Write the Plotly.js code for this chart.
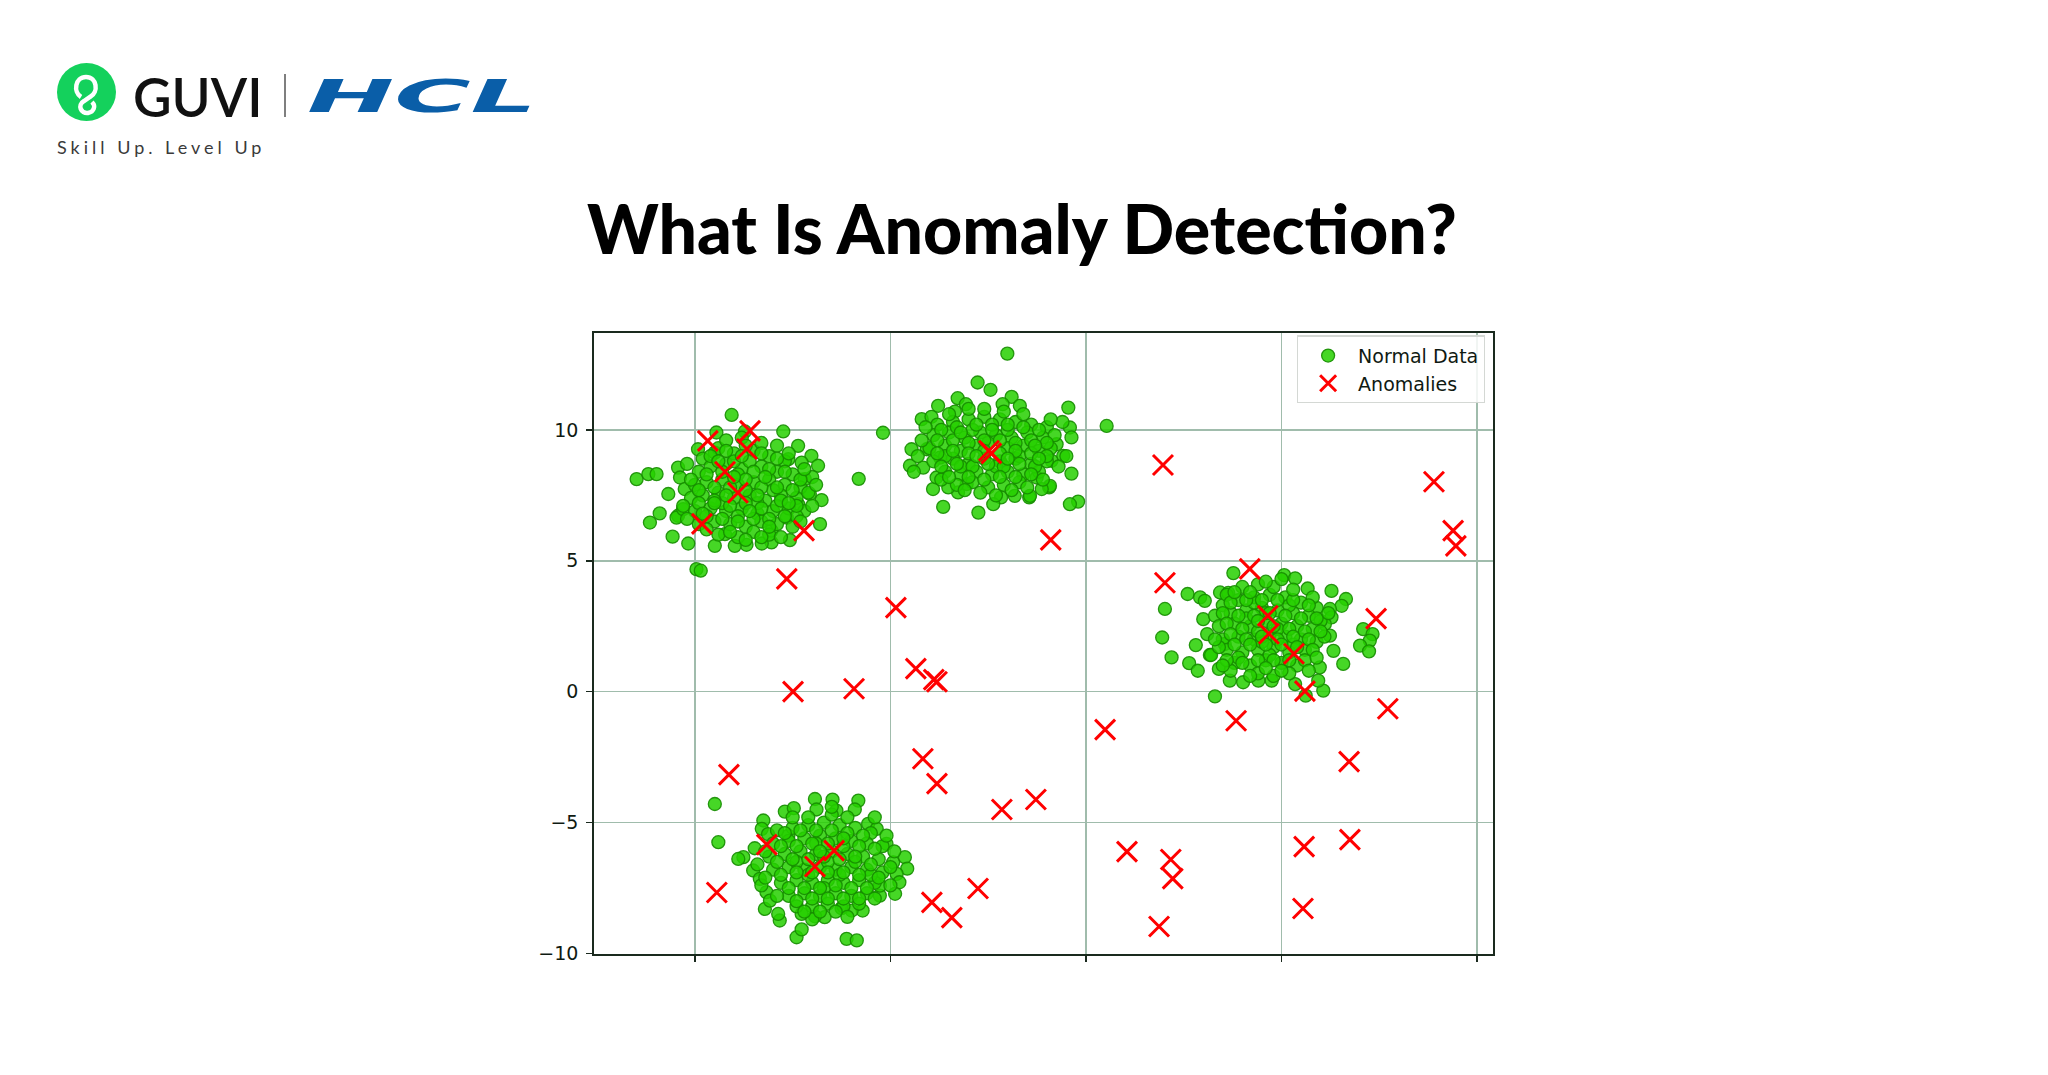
<!DOCTYPE html>
<html><head><meta charset="utf-8">
<script src="https://cdn.plot.ly/plotly-3.0.1.min.js"></script>
<style>html,body{margin:0;padding:0;background:#fff;overflow:hidden}#chart{width:2048px;height:1075px}</style>
</head><body><div id="chart"></div>
<script>
const pageTitle = 'What Is Anomaly Detection?';
const seriesNames = ['Normal Data', 'Anomalies'];
const yTicks = [-10, -5, 0, 5, 10];
const xTicks = [-10, -5, 0, 5, 10];

// Normal data, cluster around (-8.7, 7.7)
const clusterA = [
  [-9.06,10.57],[-11.49,8.12],[-11.19,8.31],[-10.98,8.31],[-10.68,7.55],[-10.43,8.56],[-10.90,6.81],[-11.15,6.46],
  [-10.57,5.92],[-10.17,5.66],[-10.43,6.72],[-9.96,4.68],[-9.85,4.62],[-9.45,9.90],[-8.72,9.94],[-7.74,9.94],
  [-7.36,9.39],[-7.02,9.01],[-6.85,8.63],[-6.76,7.32],[-6.80,6.40],[-7.06,7.55],[-7.27,8.75],[-7.61,8.88],
  [-7.57,5.79],[-8.04,5.70],[-8.29,5.66],[-8.68,5.61],[-8.98,5.57],[-9.49,5.57],[-9.23,6.02],[-8.04,6.15],
  [-7.65,6.65],[-7.36,7.16],[-7.19,8.12],[-10.38,8.18],[-10.26,7.74],[-9.92,9.26],[-9.49,9.13],[-10.47,6.65],[-10.30,6.97],
  [-9.8,8.9],[-9.4,9.3],[-9.0,9.1],[-8.5,9.2],[-8.1,9.0],[-7.7,8.8],[-9.9,8.4],[-9.6,8.6],[-9.2,8.7],[-8.8,8.5],
  [-8.3,8.6],[-7.9,8.4],[-7.5,8.3],[-10.0,7.9],[-9.7,8.0],[-9.3,8.1],[-8.9,7.9],[-8.5,8.0],[-8.1,8.1],[-7.7,7.9],
  [-7.3,7.8],[-10.1,7.4],[-9.8,7.5],[-9.4,7.6],[-9.0,7.4],[-8.6,7.5],[-8.2,7.3],[-7.8,7.5],[-7.4,7.4],[-7.1,7.6],
  [-10.0,6.9],[-9.6,7.0],[-9.2,6.9],[-8.8,7.0],[-8.4,6.8],[-8.0,6.9],[-7.6,7.0],[-7.2,6.9],[-9.9,6.4],[-9.5,6.5],
  [-9.1,6.4],[-8.7,6.3],[-8.3,6.5],[-7.9,6.4],[-7.5,6.3],[-9.4,6.0],[-8.9,5.9],[-8.5,6.1],[-8.1,6.0],[-7.8,5.9],
  [-9.0,8.8],[-8.6,8.8],[-9.5,7.8],[-8.7,7.7],[-8.0,7.7],[-9.3,7.2],[-8.4,7.2],[-7.9,7.1],[-9.7,6.7],[-8.9,6.7],
  [-8.1,6.6],[-7.4,6.7],[-9.2,9.6],[-8.8,9.7],[-8.3,9.5],[-7.9,9.4],[-10.2,8.7],[-10.3,7.1],[-7.0,8.2],[-6.9,7.9],
  [-9.6,9.0],[-9.2,9.2],[-8.7,9.4],[-8.3,9.1],[-7.9,8.9],[-9.7,8.3],[-9.3,8.4],[-8.9,8.3],[-8.5,8.4],[-8.1,8.5],
  [-7.7,8.4],[-7.3,8.1],[-9.9,7.7],[-9.5,7.3],[-9.1,7.8],[-8.7,8.1],[-8.3,7.8],[-7.9,7.8],[-7.5,7.7],[-9.9,7.2],
  [-9.5,7.2],[-9.1,7.1],[-8.7,7.2],[-8.3,7.0],[-7.8,7.3],[-7.4,7.1],[-9.7,6.2],[-9.3,6.6],[-8.9,6.5],[-8.5,6.6],
  [-8.1,6.3],[-7.7,6.7],[-7.3,6.5],[-9.1,6.1],[-8.7,5.8],[-8.3,5.9],[-10.1,8.1],[-7.2,8.5],[-8.8,9.0],[-9.4,8.8],
  [-7.6,9.1],[-10.2,6.6],[-7.0,7.1],[-8.6,6.9],[-9.2,7.5],[-8.4,7.5],[-7.6,7.2],[-9.0,8.2],[-8.2,8.2],[-9.8,6.8],
  [-5.81,8.13],[-5.19,9.89]
];

// Normal data, cluster around (-2.4, 9.3)
const clusterB = [
  [-2.01,12.91],[-2.77,11.81],[-2.44,11.53],[-3.28,11.21],[-3.07,10.98],[-3.78,10.92],[-3.35,10.70],[-1.90,11.26],
  [-2.13,10.98],[-1.69,10.92],[-4.20,10.41],[-3.95,10.50],[-0.45,10.85],[0.53,10.15],[-0.41,10.09],[-0.37,9.71],
  [-0.58,9.01],[-0.37,8.33],[-0.20,7.26],[-0.41,7.16],[-0.94,7.80],[-1.45,7.42],[-1.82,7.48],[-2.17,7.42],
  [-2.37,7.16],[-2.75,6.84],[-3.65,7.06],[-3.27,7.61],[-3.91,7.74],[-4.50,8.63],[-4.46,9.26],[-4.16,8.56],
  [-3.82,8.18],[-4.07,9.26],[-1.26,8.18],[-0.92,7.86],[-1.13,7.74],[-1.43,7.48],[-0.75,9.45],[-0.88,8.82],
  [-3.73,8.94],[-3.52,7.80],[-3.05,7.93],
  [-3.8,10.2],[-3.4,10.3],[-3.0,10.4],[-2.6,10.5],[-2.2,10.4],[-1.8,10.3],[-1.4,10.2],[-1.0,10.1],[-3.9,9.8],
  [-3.5,9.9],[-3.1,9.7],[-2.7,9.9],[-2.3,9.8],[-1.9,9.7],[-1.5,9.9],[-1.1,9.7],[-0.8,9.8],[-4.0,9.3],[-3.6,9.4],
  [-3.2,9.2],[-2.8,9.4],[-2.0,9.3],[-1.6,9.4],[-1.2,9.2],[-0.9,9.3],[-3.9,8.8],[-3.4,8.9],[-3.0,8.7],[-2.6,8.9],
  [-2.2,8.8],[-1.8,8.9],[-1.4,8.7],[-1.0,8.8],[-3.6,8.4],[-3.2,8.3],[-2.8,8.4],[-2.4,8.3],[-2.0,8.4],[-1.6,8.3],
  [-1.2,8.4],[-3.3,7.9],[-2.9,8.0],[-2.5,7.8],[-2.1,7.9],[-1.7,8.0],[-3.6,9.0],[-2.5,9.5],[-1.7,9.0],[-2.9,10.0],
  [-2.0,10.0],[-3.2,8.6],[-2.3,8.6],[-1.3,8.6],[-4.2,9.6],[-4.3,9.0],[-0.6,10.3],[-0.5,9.0],[-2.6,10.8],[-2.1,10.7],
  [-3.0,10.8],[-3.7,8.1],[-1.9,7.7],[-2.7,7.6],[-1.1,8.1],
  [-3.7,10.0],[-3.3,10.1],[-2.8,10.2],[-2.4,10.2],[-2.0,10.2],[-1.6,10.1],[-1.2,10.0],[-3.8,9.6],[-3.4,9.6],
  [-3.0,9.5],[-2.6,9.6],[-2.2,9.6],[-1.8,9.5],[-1.4,9.6],[-1.0,9.5],[-3.8,9.1],[-3.4,9.2],[-3.0,9.1],[-2.6,9.2],
  [-2.2,9.1],[-1.8,9.2],[-1.4,9.1],[-1.0,9.0],[-3.7,8.6],[-3.3,8.7],[-2.9,8.6],[-2.5,8.7],[-2.1,8.6],[-1.7,8.7],
  [-1.2,8.9],[-3.5,8.2],[-3.0,8.2],[-2.6,8.1],[-2.2,8.2],[-1.8,8.2],[-1.4,8.3],[-3.1,7.7],[-2.3,7.5],[-1.5,7.8],
  [-4.1,10.1],[-0.9,10.4],[-0.7,8.6],[-4.4,8.4],[-3.5,10.6],[-1.6,10.6],[-2.8,9.0],[-2.0,8.9],[-3.2,9.9],[-2.4,10.0],[-1.3,9.4]
];

// Normal data, cluster around (4.6, 2.3)
const clusterC = [
  [3.77,4.53],[2.60,3.73],[2.92,3.60],[3.04,3.47],[2.02,3.16],[1.95,2.07],[2.19,1.31],[2.64,1.09],[2.86,0.80],
  [3.30,-0.18],[2.81,1.78],[3.00,2.77],[3.17,1.40],[3.40,0.87],[3.43,3.79],[3.64,3.77],[5.07,4.45],[5.35,4.33],
  [5.67,3.94],[6.28,3.85],[6.65,3.54],[6.54,3.28],[6.24,3.16],[6.28,2.84],[6.11,2.58],[6.24,2.14],[6.33,1.56],
  [6.58,1.06],[5.98,0.93],[6.07,0.04],[5.62,-0.15],[7.09,2.39],[7.33,2.20],[7.26,1.95],[7.01,1.76],[7.24,1.54],
  [5.94,0.42],[5.35,0.29],[4.75,0.42],[4.41,0.42],[4.02,0.36],[3.68,0.42],[3.55,1.82],
  [3.5,3.3],[3.9,3.5],[4.3,3.6],[4.7,3.7],[5.1,3.6],[5.5,3.4],[5.9,3.2],[3.3,2.9],[3.7,3.0],[4.1,3.1],[4.5,3.2],
  [4.9,3.1],[5.3,3.0],[5.7,2.9],[6.0,2.7],[3.4,2.5],[3.8,2.6],[4.2,2.5],[4.6,2.7],[5.0,2.6],[5.4,2.5],[5.8,2.4],
  [3.5,2.0],[3.9,2.1],[4.3,2.0],[4.7,2.2],[5.1,2.1],[5.5,2.0],[5.9,1.9],[3.6,1.6],[4.0,1.5],[4.4,1.6],[4.8,1.7],
  [5.2,1.5],[5.6,1.6],[3.8,1.1],[4.2,1.0],[4.6,1.2],[5.0,1.1],[5.4,1.0],[4.4,0.7],[4.8,0.6],[5.2,0.7],[4.0,4.0],
  [4.4,4.1],[4.8,4.0],[5.0,4.3],[4.1,2.8],[4.9,2.4],[5.3,1.8],[4.5,1.9],[3.9,1.3],[5.6,1.2],[4.3,3.4],[5.2,3.3],
  [3.1,2.2],[3.2,1.4],[6.1,2.1],[5.7,0.8],[3.7,0.8],[4.7,1.4],[4.6,3.0],[5.8,3.6],[3.6,3.7],
  [3.7,3.4],[4.1,3.5],[4.5,3.5],[4.9,3.5],[5.3,3.5],[5.7,3.3],[3.5,3.0],[3.9,2.9],[4.3,2.9],[4.7,3.0],[5.1,2.9],
  [5.5,2.8],[5.9,2.8],[3.6,2.6],[4.0,2.4],[4.4,2.3],[4.8,2.5],[5.2,2.4],[5.6,2.3],[6.0,2.3],[3.7,2.2],[4.1,2.0],
  [4.5,2.1],[4.9,2.0],[5.3,2.1],[5.7,2.0],[3.4,1.7],[3.8,1.8],[4.2,1.8],[4.6,1.8],[5.0,1.8],[5.4,1.7],[5.8,1.6],
  [3.6,1.2],[4.0,1.1],[4.4,1.2],[4.8,1.2],[5.2,1.2],[4.6,0.9],[5.0,0.8],[4.2,0.6],[4.6,4.2],[5.3,3.9],[4.2,3.8],
  [3.8,3.8],[6.2,3.0],[5.9,1.3],[3.3,2.0],[3.5,1.0],[4.4,2.7]
];

// Normal data, cluster around (-6.7, -6.5)
const clusterD = [
  [-9.49,-4.29],[-9.40,-5.75],[-6.93,-4.10],[-6.48,-4.12],[-5.82,-4.16],[-5.91,-4.50],[-6.38,-4.54],[-6.89,-4.50],
  [-7.70,-4.58],[-7.47,-4.45],[-8.25,-4.92],[-8.29,-5.24],[-5.57,-5.05],[-5.35,-5.24],[-5.10,-5.81],[-4.93,-6.52],
  [-4.63,-6.32],[-4.57,-6.76],[-4.84,-6.96],[-4.77,-7.28],[-4.88,-7.72],[-5.27,-7.79],[-5.27,-7.41],[-5.71,-8.36],
  [-5.99,-8.36],[-6.25,-8.27],[-6.68,-8.61],[-6.93,-8.58],[-7.27,-8.49],[-7.40,-9.38],[-7.27,-9.08],[-6.12,-9.44],
  [-5.86,-9.50],[-7.83,-8.74],[-7.87,-8.49],[-8.21,-8.30],[-8.17,-7.66],[-8.08,-7.98],[-8.76,-6.32],[-8.89,-6.39],
  [-8.51,-6.83],[-8.34,-7.15],[-8.47,-5.98],[-8.13,-5.44],[-7.61,-5.50],
  [-7.9,-5.3],[-7.5,-5.2],[-7.1,-5.1],[-6.7,-5.0],[-6.3,-5.1],[-5.9,-5.2],[-5.5,-5.4],[-8.0,-5.8],[-7.6,-5.7],
  [-7.2,-5.6],[-6.8,-5.5],[-6.4,-5.6],[-6.0,-5.7],[-5.6,-5.8],[-5.2,-5.9],[-8.1,-6.3],[-7.7,-6.2],[-7.3,-6.1],
  [-6.9,-6.2],[-6.5,-6.1],[-6.1,-6.2],[-5.7,-6.3],[-5.3,-6.4],[-8.0,-6.8],[-7.6,-6.7],[-7.2,-6.8],[-6.8,-6.7],
  [-6.4,-6.8],[-6.0,-6.7],[-5.6,-6.8],[-5.2,-6.9],[-7.8,-7.3],[-7.4,-7.2],[-7.0,-7.3],[-6.6,-7.2],[-6.2,-7.3],
  [-5.8,-7.2],[-5.4,-7.3],[-7.6,-7.8],[-7.2,-7.7],[-6.8,-7.8],[-6.4,-7.7],[-6.0,-7.8],[-5.6,-7.7],[-7.0,-8.2],
  [-6.6,-8.1],[-6.2,-8.2],[-7.4,-8.2],[-5.8,-8.1],[-6.9,-5.8],[-6.2,-5.9],[-7.4,-6.5],[-6.6,-6.5],[-5.9,-6.5],
  [-7.1,-7.0],[-6.3,-7.0],[-5.5,-7.0],[-6.7,-7.5],[-7.5,-4.8],[-6.5,-4.7],[-5.4,-4.8],[-8.4,-6.6],[-8.3,-7.4],
  [-4.9,-6.1],[-5.0,-7.4],[-6.1,-8.6],[-7.0,-8.7],[-6.5,-4.4],
  [-7.7,-5.4],[-7.3,-5.3],[-6.9,-5.3],[-6.5,-5.3],[-6.1,-5.4],[-5.7,-5.5],[-7.8,-5.9],[-7.4,-5.9],[-7.0,-5.8],
  [-6.6,-5.8],[-6.2,-5.6],[-5.8,-5.9],[-5.4,-6.0],[-7.9,-6.5],[-7.5,-6.4],[-7.1,-6.4],[-6.7,-6.3],[-6.3,-6.4],
  [-5.9,-6.3],[-5.5,-6.6],[-7.8,-7.0],[-7.4,-6.9],[-7.0,-6.9],[-6.6,-6.9],[-6.2,-6.9],[-5.8,-7.0],[-5.3,-7.1],
  [-7.6,-7.5],[-7.2,-7.5],[-6.8,-7.5],[-6.4,-7.4],[-6.0,-7.5],[-5.6,-7.5],[-7.4,-8.0],[-7.0,-7.9],[-6.6,-7.9],
  [-6.2,-7.9],[-5.8,-7.9],[-6.8,-8.4],[-6.4,-8.4],[-7.2,-8.4],[-8.2,-6.1],[-8.2,-7.1],[-5.0,-6.7],[-5.1,-5.5],
  [-7.1,-4.8],[-6.1,-4.8],[-7.9,-7.8],[-5.4,-7.9],[-6.8,-6.1]
];

const anomalies = [
  [-9.67,9.58],[-8.59,9.96],[-8.67,9.27],[-9.23,8.40],[-8.90,7.60],[-9.82,6.41],[-7.21,6.15],[-7.65,4.31],
  [-4.86,3.21],[-2.48,9.20],[-2.42,9.10],[-0.90,5.80],[1.97,8.66],[8.90,8.02],[9.39,6.15],[9.46,5.57],
  [4.19,4.69],[2.02,4.16],[4.65,2.90],[4.68,2.21],[7.42,2.79],[5.32,1.45],[5.60,0.02],[7.72,-0.65],
  [3.84,-1.11],[0.49,-1.45],[6.73,-2.67],[-1.28,-4.12],[6.75,-5.65],[5.58,-5.92],[1.05,-6.11],[2.17,-6.41],
  [2.22,-7.14],[5.55,-8.28],[1.87,-8.97],[-7.49,0.0],[-5.93,0.11],[-4.35,0.88],[-3.89,0.46],[-3.81,0.38],
  [-4.17,-2.56],[-3.81,-3.51],[-9.13,-3.17],[-2.15,-4.50],[-8.16,-5.84],[-6.44,-6.07],[-6.93,-6.68],
  [-9.44,-7.67],[-3.94,-8.05],[-3.43,-8.63],[-2.76,-7.52]
];

const normalPts = clusterA.concat(clusterB, clusterC, clusterD);

// page geometry (pixels) for the plot frame
const FL = 594, FT = 333, FW = 899, FH = 621;
const px = p => (p - FL) / FW;
const py = p => (FT + FH - p) / FH;
function pth(pts) {
  return pts.map(s => {
    if (typeof s === 'string') return s;
    return px(s[0]).toFixed(5) + ',' + py(s[1]).toFixed(5);
  }).join(' ');
}

const traces = [
  {
    type: 'scatter', mode: 'markers', name: seriesNames[0],
    x: normalPts.map(p => p[0]), y: normalPts.map(p => p[1]),
    marker: { size: 13, color: 'rgba(38,208,0,0.85)', line: { color: 'rgba(22,140,0,0.9)', width: 1.3 } },
    hoverinfo: 'x+y'
  },
  {
    type: 'scatter', mode: 'markers', name: seriesNames[1],
    x: anomalies.map(p => p[0]), y: anomalies.map(p => p[1]),
    marker: { symbol: 'x-thin-open', size: 20, color: '#ff0000', line: { color: '#ff0000', width: 3 } },
    hoverinfo: 'x+y'
  }
];

const gPath = 'M ' + pth([[81,97],'C',[73,92],[75,77],[86,77],'C',[97,77],[99,92],[90,97],'L',[84,101],'C',[77,105],[81,114],[88,113],'C',[94,112],[96,106],[92,102]]);

const layout = {
  width: 2048, height: 1075, autosize: false,
  paper_bgcolor: '#ffffff', plot_bgcolor: '#ffffff',
  margin: { l: FL, r: 2048 - FL - FW, t: FT, b: 1075 - FT - FH, pad: 0 },
  font: { family: 'DejaVu Sans, sans-serif', color: '#0f1a12' },
  title: {
    text: pageTitle, x: 0.499, xanchor: 'center', xref: 'container',
    y: 1 - 230 / 1075, yref: 'container', yanchor: 'middle',
    font: { family: 'Lato, sans-serif', size: 68, weight: 900, color: '#000000' }
  },
  showlegend: true,
  legend: {
    x: 0.991, xanchor: 'right', y: 0.996, yanchor: 'top',
    bgcolor: 'rgba(255,255,255,0.85)', bordercolor: '#d4d8d4', borderwidth: 1.2,
    font: { family: 'DejaVu Sans, sans-serif', size: 19, color: '#0f1a12' },
    itemwidth: 50, tracegroupgap: 2
  },
  xaxis: {
    range: [-12.58, 10.41], tickvals: xTicks, showticklabels: false,
    ticks: 'outside', ticklen: 6, tickwidth: 1.5, tickcolor: '#1a2a1e',
    showgrid: true, gridcolor: 'rgb(160,188,172)', gridwidth: 1.6, zeroline: false,
    showline: true, mirror: true, linecolor: '#1a2a1e', linewidth: 1.8
  },
  yaxis: {
    range: [-10.02, 13.7], tickvals: yTicks,
    ticks: 'outside', ticklen: 6, tickwidth: 1.5, tickcolor: '#1a2a1e', ticklabelstandoff: 4,
    tickfont: { family: 'DejaVu Sans, sans-serif', size: 19, color: '#0f1a12' },
    showgrid: true, gridcolor: 'rgb(160,188,172)', gridwidth: 1.6, zeroline: false,
    showline: true, mirror: true, linecolor: '#1a2a1e', linewidth: 1.8
  },
  shapes: [
    { type: 'circle', xref: 'paper', yref: 'paper', x0: px(57), x1: px(116), y0: py(121), y1: py(63),
      fillcolor: '#14d15c', line: { width: 0 } },
    { type: 'path', xref: 'paper', yref: 'paper', path: gPath, line: { color: '#ffffff', width: 4.5 } },
    { type: 'line', xref: 'paper', yref: 'paper', x0: px(285), x1: px(285), y0: py(74), y1: py(117),
      line: { color: '#555555', width: 1.5 } }
  ],
  annotations: [
    { text: 'GUVI', xref: 'paper', yref: 'paper', x: px(131), y: py(96), xanchor: 'left', yanchor: 'middle', align: 'left',
      showarrow: false, font: { family: 'Lato, sans-serif', size: 53, weight: 600, color: '#111111' } },
    { text: 'HCL', xref: 'paper', yref: 'paper', x: px(305), y: py(96), xanchor: 'left', yanchor: 'middle', align: 'left',
      showarrow: false, font: { family: 'DejaVu Sans, sans-serif', size: 44, weight: 'bold', style: 'italic', color: '#0a5ea8' } },
    { text: 'Skill Up. Level Up', xref: 'paper', yref: 'paper', x: px(55), y: py(147), xanchor: 'left', yanchor: 'middle', align: 'left',
      showarrow: false, font: { family: 'Lato, sans-serif', size: 18, color: '#3a3a3a' } }
  ]
};

Plotly.newPlot('chart', traces, layout, { displayModeBar: false, staticPlot: true }).then(gd => {
  gd.querySelectorAll('text.annotation-text').forEach(t => {
    const s = t.textContent;
    if (s === 'HCL') {
      const b = t.getBBox();
      const sx = 230 / b.width;
      t.setAttribute('transform', 'translate(' + b.x + ',0) scale(' + sx + ',1) translate(' + (-b.x) + ',0)');
    } else if (s.indexOf('Skill') === 0) {
      t.style.letterSpacing = '4px';
    }
  });
});
</script>
</body></html>
